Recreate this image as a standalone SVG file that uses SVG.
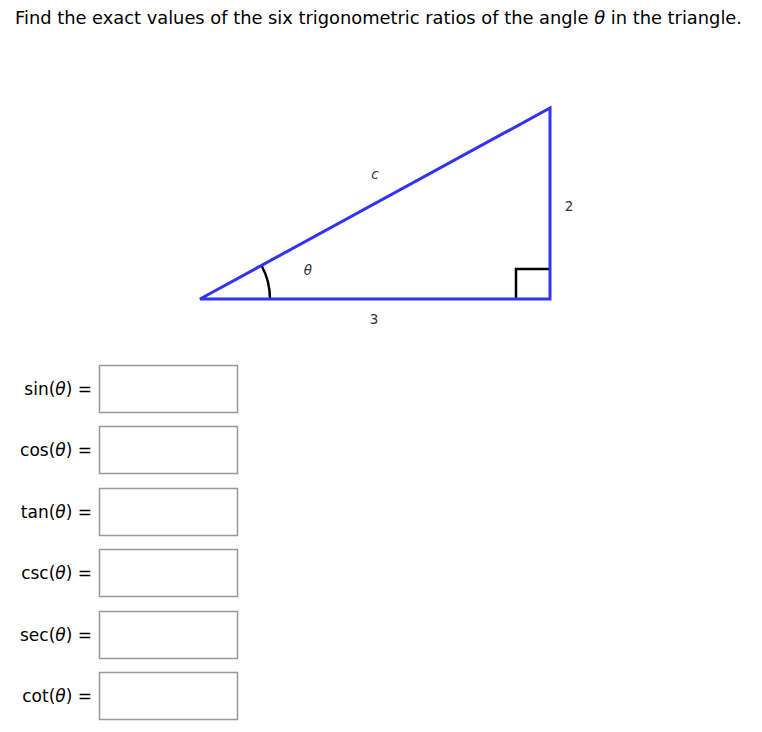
<svg xmlns="http://www.w3.org/2000/svg" width="762" height="732" viewBox="0 0 762 732">
<style>
.t{font-family:"DejaVu Sans",Verdana,sans-serif;fill:#000}
.lab{font-family:"DejaVu Sans",Verdana,sans-serif;font-size:17px;fill:#000;text-anchor:end}
.th{font-style:italic}
.box{fill:#fff;stroke:#999;stroke-width:1.5}
.sm{font-family:"DejaVu Sans",Verdana,sans-serif;font-size:13.5px;fill:#333;text-anchor:middle}
</style>
<rect width="762" height="732" fill="#fff"/>
<text class="t" x="15" y="24" font-size="17" textLength="727" lengthAdjust="spacingAndGlyphs">Find the exact values of the six trigonometric ratios of the angle <tspan class="th">θ</tspan> in the triangle.</text>
<g id="triangle">
<path d="M516,299 V269 H550" fill="none" stroke="#000" stroke-width="2.5"/>
<path d="M261.5,265.5 A70,70 0 0 1 270,299" fill="none" stroke="#000" stroke-width="2.5"/>
<polygon points="200,299 550,108 550,299" fill="none" stroke="#3333f5" stroke-width="3" stroke-linejoin="miter"/>
<text class="sm th" x="375" y="179">c</text>
<text class="sm th" x="308" y="275">θ</text>
<text class="sm" x="374" y="324">3</text>
<text class="sm" x="569" y="211">2</text>
</g>
<g id="sin"><text class="lab" x="92" y="395">sin(<tspan class="th">θ</tspan>) =</text><rect class="box" x="99.5" y="365.5" width="138" height="47"/></g>
<g id="cos"><text class="lab" x="92" y="456">cos(<tspan class="th">θ</tspan>) =</text><rect class="box" x="99.5" y="426.5" width="138" height="47"/></g>
<g id="tan"><text class="lab" x="92" y="518">tan(<tspan class="th">θ</tspan>) =</text><rect class="box" x="99.5" y="488.5" width="138" height="47"/></g>
<g id="csc"><text class="lab" x="92" y="579">csc(<tspan class="th">θ</tspan>) =</text><rect class="box" x="99.5" y="549.5" width="138" height="47"/></g>
<g id="sec"><text class="lab" x="92" y="641">sec(<tspan class="th">θ</tspan>) =</text><rect class="box" x="99.5" y="611.5" width="138" height="47"/></g>
<g id="cot"><text class="lab" x="92" y="702">cot(<tspan class="th">θ</tspan>) =</text><rect class="box" x="99.5" y="672.5" width="138" height="47"/></g>
</svg>
